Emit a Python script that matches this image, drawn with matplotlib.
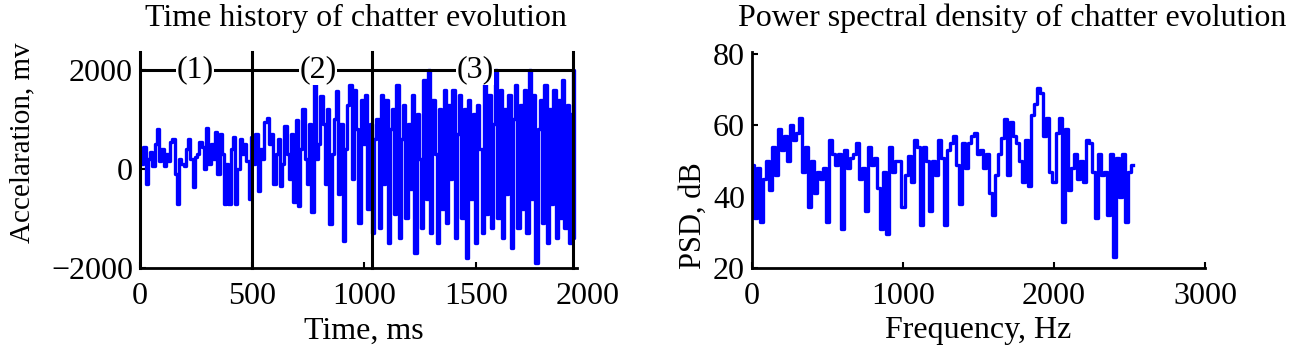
import numpy as np
import matplotlib
matplotlib.use('agg')
import matplotlib.pyplot as plt

plt.rcParams['font.family'] = ['Liberation Serif', 'DejaVu Serif']

dt_ms = 10
acc_stage1 = [300, 100, 450, -300, 200, 350, 50, 500, 800, 150, 400, 50, 300, 150,
              550, 600, -100, -700, 200, 100, 50, 400, 600, 200, -370, 250, 300, 550,
              450, 0, 830, 100, 500, 200, 750, -100, 700, 300, -700, 100, -700, 400,
              650, -700, 0, 600, 300, 500, 150, -600, 650, 100]
acc_stage2 = [700, -440, 400, 200, 950, 1030, 500, 700, -300, 300, 600, -340, 100, 860,
              300, -200, 700, -670, 990, -740, 400, 1210, 200, -300, 900, -875, 1750,
              200, 500, 1480, 900, -300, 1200, -1110, 300, 1000, 1570, -500, 900, -1450,
              400, 1300, 1700, -200, 1600, 800, -1100, 1400, 500, 1500, -800, 900, -1300,
              600]
acc_stage3 = [1000, -1200, 1500, -300, 1400, -1500, 800, 1200, -900, 1700, -1400, 600,
              1300, -1000, 900, -400, 1500, -1700, 1100, 200, -1200, 1800, -600, 2000,
              -1300, 1400, 300, -1500, 1200, -800, 1600, -1100, 1300, -200, 1600, -1400,
              700, 1500, -1000, 1200, -1800, 1400, -600, 1100, -1500, 1300, 400, -1300,
              1900, -900, 1500, -1200, 900, 2000, -1000, 1600, -1400, 1200, -500, 1500,
              -1600, 1000, 1700, -1200, 1300, -800, 1600, -1300, 2000, -600, 1500, -1900,
              800, 1400, -1100, 1700, -1500, 1200, -700, 1600, -1400, 1400, -1000, 1800,
              -1200, 1300, -1500, 1100, 2000, -1400]
stage_bounds = [0, 500, 1036, 1933]
stage_labels = ['(1)', '(2)', '(3)']
stage_label_x = [245, 795, 1495]

# PSD, every 20 Hz
df_hz = 20
psd_db = [49, 34, 48, 33, 45, 50, 42, 54, 46, 59, 53, 57, 50, 60, 56, 58, 62, 47, 54, 37,
          50, 41, 47, 45, 48, 33, 56, 52, 49, 52, 31, 53, 48, 51, 52, 55, 45, 48, 36, 54,
          49, 51, 42.5, 31, 47, 29.5, 54, 47, 50, 50, 37, 46, 51.5, 44, 56, 54, 32, 54,
          50, 36, 50, 46, 56, 51, 32, 53, 55, 57, 49, 38, 55, 48, 55, 57, 58, 52, 53, 48,
          52, 41, 35, 46, 52, 56.5, 61.8, 46, 61, 57, 55, 50, 44, 56, 43, 63, 66, 70.5, 69,
          57, 62, 47, 44, 58, 62, 33, 59, 42, 48, 52, 45, 50, 44, 56, 55, 47, 34, 52, 46,
          47, 35, 52, 23, 51, 40, 52, 33, 47, 49]

acc = np.array(acc_stage1 + acc_stage2 + acc_stage3)
t = np.arange(len(acc)) * dt_ms
t[-1] = stage_bounds[-1]
freq = np.arange(len(psd_db)) * df_hz

blue = '#0000ff'
fs = 23

fig = plt.figure(figsize=(12.96, 3.55), dpi=100)
ax1 = fig.add_axes([140 / 1296, 87 / 355, 448 / 1296, 216 / 355])
ax2 = fig.add_axes([752 / 1296, 87 / 355, 453 / 1296, 216 / 355])

# left: time history
ax1.plot(t, acc, color=blue, lw=2.4, drawstyle='steps-mid', zorder=2)
ax1.set_xlim(0, 2000)
ax1.set_ylim(-2000, 2360)
ax1.set_xticks([0, 500, 1000, 1500, 2000])
ax1.set_yticks([-2000, 0, 2000])
ax1.set_yticklabels(['\u22122000', '0', '2000'])
ax1.spines['bottom'].set_bounds(0, 1950)
ax1.xaxis.get_major_ticks()[-1].tick1line.set_visible(False)
for xb in stage_bounds:
    ax1.plot([xb, xb], [-2000, 2360], color='black', lw=2.2, zorder=3, clip_on=False)
ax1.plot([0, stage_bounds[-1]], [2000, 2000], color='black', lw=2.2, zorder=3)
for lab, xl in zip(stage_labels, stage_label_x):
    ax1.text(xl, 2000, lab, fontsize=fs, ha='center', va='center', zorder=4,
             bbox=dict(facecolor='white', edgecolor='none', pad=0.5))
ax1.set_xlabel('Time, ms', fontsize=fs, labelpad=4)

# right: PSD
ax2.plot(freq, psd_db, color=blue, lw=2.4, drawstyle='steps-mid')
ax2.set_xlim(0, 3000)
ax2.set_ylim(20, 80.6)
ax2.set_xticks([0, 1000, 2000, 3000])
ax2.set_yticks([20, 40, 60, 80])
ax2.set_xlabel('Frequency, Hz', fontsize=fs, labelpad=4)

fig.text(22 / 1296, 1 - 143 / 355, 'Accelaration, mv', fontsize=21,
         rotation=90, ha='center', va='center')
fig.text(693 / 1296, 1 - 216 / 355, 'PSD, dB', fontsize=22,
         rotation=90, ha='center', va='center')
fig.text(356 / 1296, 1 - 18 / 355, 'Time history of chatter evolution',
         fontsize=23, ha='center', va='center')
fig.text(1012 / 1296, 1 - 18 / 355, 'Power spectral density of chatter evolution',
         fontsize=23, ha='center', va='center')

for ax in (ax1, ax2):
    for s in ('top', 'right'):
        ax.spines[s].set_visible(False)
    for s in ('left', 'bottom'):
        ax.spines[s].set_linewidth(2)
    ax.tick_params(direction='in', length=4, width=1.5, labelsize=fs, pad=10)
    ax.tick_params(axis='y', pad=5)

fig.savefig('out.png', dpi=100)
